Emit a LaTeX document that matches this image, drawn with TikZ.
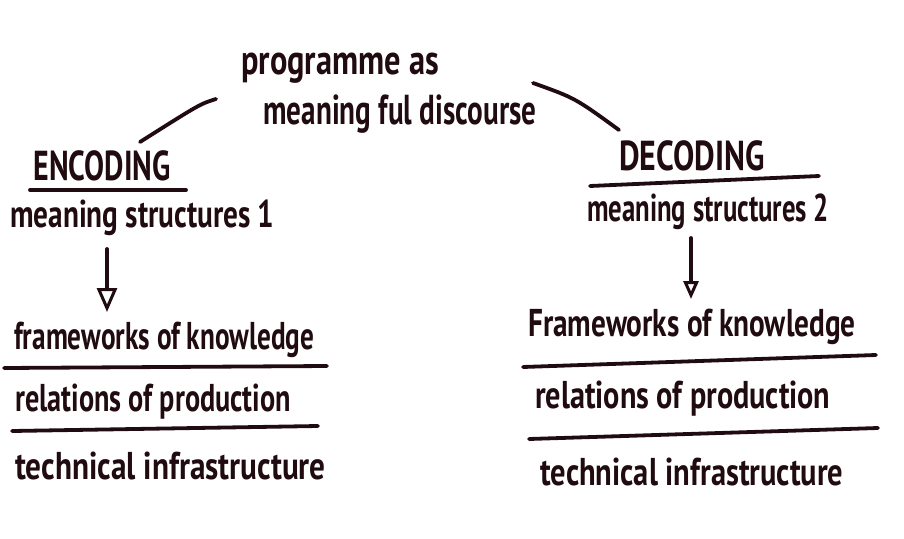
\documentclass[tikz,border=0pt]{standalone}
\usepackage{fontspec}
\setmainfont{PT Sans}
\usetikzlibrary{arrows.meta}
\definecolor{ink}{RGB}{32,12,16}
\newcommand{\hw}[2][1]{\scalebox{#1}[1.55]{#2}}
\tikzset{
  lbl/.style={anchor=west, inner sep=0pt, text=ink, font=\fontsize{25}{30}\selectfont\bfseries},
  ttl/.style={anchor=center, inner sep=0pt, text=ink, font=\fontsize{27}{32}\selectfont\bfseries},
  stroke/.style={draw=ink, line width=3.8pt, line cap=round},
  arr/.style={stroke, -{Triangle[open, length=24pt, width=20pt, line width=3pt]}}
}
\begin{document}
\begin{tikzpicture}[x=1pt, y=-1pt]
\useasboundingbox (0,0) rectangle (904,538);
% title
\node[ttl] (t1) at (340,68) {\hw[1.2]{programme as}};
\node[ttl] (t2) at (400,114) {\hw[1.08]{meaning ful discourse}};
% left column
\node[ttl] (enc) at (102,166) {\hw[1.11]{ENCODING}};
\node[lbl] (ms1) at (10,218) {\hw[1.17]{meaning structures 1}};
\node[lbl] (fw1) at (14,340) {\hw[1.09]{frameworks of knowledge}};
\node[lbl] (rp1) at (15,402) {\hw[1.13]{relations of production}};
\node[lbl] (ti1) at (15,466) {\hw[1.25]{technical infrastructure}};
% right column
\node[ttl] (dec) at (692,156) {\hw[1.18]{DECODING}};
\node[lbl] (ms2) at (587,212) {\hw[1.07]{meaning structures 2}};
\node[lbl] (fw2) at (528,327) {\hw[1.17]{Frameworks of knowledge}};
\node[lbl] (rp2) at (535,399) {\hw[1.21]{relations of production}};
\node[lbl] (ti2) at (540,472) {\hw[1.22]{technical infrastructure}};
% connector coordinates
\coordinate (la) at (216,99);
\coordinate (lb) at (140,142);
\coordinate (ra) at (533,83);
\coordinate (rb) at (619,130);
\draw[stroke] (la) .. controls (200,104) .. (lb);
\draw[stroke] (ra) .. controls (575,98) .. (rb);
% underlines and separators
\draw[stroke] (30,190) -- (186,190);
\draw[stroke] (590,186) -- (819,176);
\draw[stroke] (4,368) -- (327,366);
\draw[stroke] (12,431) -- (318,426);
\draw[stroke] (523,367) -- (876,355);
\draw[stroke] (529,439) -- (878,428);
% arrows
\coordinate (a1s) at (107,249);
\coordinate (a1e) at (107,312);
\coordinate (a2s) at (691,238);
\coordinate (a2e) at (691,299);
\draw[arr] (a1s) -- (a1e);
\draw[arr, -{Triangle[open, length=18pt, width=15pt, line width=3pt]}] (a2s) -- (a2e);
\end{tikzpicture}
\end{document}
